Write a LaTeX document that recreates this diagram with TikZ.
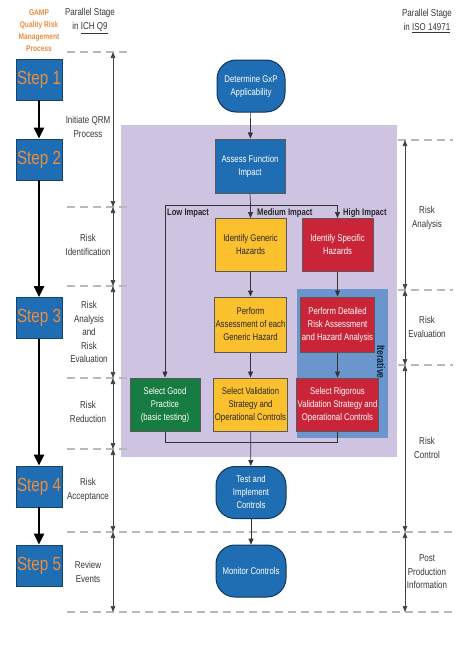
\documentclass[tikz,border=0pt]{standalone}
\usepackage{fontspec}
\setmainfont{Liberation Sans}[FakeStretch=0.8]
\usetikzlibrary{arrows.meta}
\definecolor{stepblue}{RGB}{31,110,180}
\definecolor{steporange}{RGB}{236,140,62}
\definecolor{lav}{RGB}{206,196,226}
\definecolor{yel}{RGB}{251,192,45}
\definecolor{redb}{RGB}{201,36,56}
\definecolor{grn}{RGB}{22,124,66}
\definecolor{iterblue}{RGB}{106,150,205}
\definecolor{txtgray}{RGB}{55,55,55}
\definecolor{dashgray}{RGB}{185,185,185}
\tikzset{
  stepbox/.style={rectangle, fill=stepblue, draw=stepblue!60!black, line width=0.8pt,
    minimum width=46, minimum height=41, inner sep=0, text=steporange,
    font=\fontsize{19}{20}\selectfont},
  procbox/.style={rectangle, draw=black!65, line width=1pt, minimum width=71,
    minimum height=53, inner sep=1, align=center, font=\fontsize{9.7}{13}\selectfont},
  bluebox/.style={procbox, fill=stepblue, text=white},
  yelbox/.style={procbox, fill=yel, text=black!85},
  redbox/.style={procbox, fill=redb, text=white},
  grnbox/.style={procbox, fill=grn, text=white},
  termbox/.style={rectangle, rounded corners=19pt, fill=stepblue, draw=stepblue!50!black,
    line width=1pt, minimum width=70, minimum height=52, inner sep=1, align=center,
    text=white, font=\fontsize{9.7}{13}\selectfont},
  flow/.style={draw=black!80, line width=0.7pt},
  flowarr/.style={flow, -{Triangle[width=5pt,length=6pt]}},
  bigarr/.style={draw=black, line width=2.6pt, -{Triangle[width=10pt,length=11pt]}},
  stagedash/.style={draw=dashgray, line width=2.2pt, dash pattern=on 8pt off 5pt},
  stagearr/.style={draw=black!75, line width=0.7pt,
    {Triangle[width=4.5pt,length=6pt]}-{Triangle[width=4.5pt,length=6pt]}},
  stagelbl/.style={align=center, text=txtgray, font=\fontsize{10}{13.5}\selectfont},
  implbl/.style={anchor=west, text=black!85, font=\bfseries\fontsize{9.5}{11}\selectfont, inner sep=1}
}
\begin{document}
\begin{tikzpicture}[x=1pt,y=-1pt]
\useasboundingbox (0,0) rectangle (474,645);
\fill[white] (0,0) rectangle (474,645);

% background regions
\fill[lav] (121,125) rectangle (397,457);
\fill[iterblue] (297,289) rectangle (388,438);
\node[rotate=-90, text=stepblue!35!black, font=\bfseries\fontsize{11}{12}\selectfont] (iterlbl) at (381,362) {Iterative};

% headers
\node[align=center, text=steporange, font=\bfseries\fontsize{8.3}{12}\selectfont] (gamp) at (39,31) {GAMP\\Quality Risk\\Management\\Process};
\node[stagelbl] (ichhdr) at (90,21) {Parallel Stage\\in \underline{ICH Q9}};
\node[stagelbl] (isohdr) at (427,21) {Parallel Stage\\in \underline{ISO 14971}};

% steps
\node[stepbox] (s1) at (39,79.5) {Step 1};
\node[stepbox] (s2) at (39,159.5) {Step 2};
\node[stepbox] (s3) at (39,318) {Step 3};
\node[stepbox] (s4) at (39,486.5) {Step 4};
\node[stepbox] (s5) at (39,565.5) {Step 5};
\draw[bigarr] (s1) -- (s2);
\draw[bigarr] (s2) -- (s3);
\draw[bigarr] (s3) -- (s4);
\draw[bigarr] (s4) -- (s5);

% left stage markers
\coordinate (L0) at (113,52);
\coordinate (L1) at (113,207);
\coordinate (L2) at (113,286);
\coordinate (L3) at (113,378);
\coordinate (L4) at (113,449);
\coordinate (L5) at (113,532);
\coordinate (L6) at (113,612);
\foreach \yy in {52,207,286,378,449} { \draw[stagedash] (67,\yy) -- (128,\yy); }
\draw[stagedash] (67,532) -- (453,532);
\draw[stagedash] (67,612) -- (453,612);
\draw[stagearr] (L0) -- (L1);
\draw[stagearr] (L1) -- (L2);
\draw[stagearr] (L2) -- (L3);
\draw[stagearr] (L3) -- (L4);
\draw[stagearr] (L4) -- (L5);
\draw[stagearr] (L5) -- (L6);

% right stage markers
\coordinate (R0) at (405,140);
\coordinate (R1) at (405,290);
\coordinate (R2) at (405,365);
\coordinate (R3) at (405,532);
\coordinate (R4) at (405,612);
\foreach \yy in {140,290,365} { \draw[stagedash] (398,\yy) -- (453,\yy); }
\draw[stagearr] (R0) -- (R1);
\draw[stagearr] (R1) -- (R2);
\draw[stagearr] (R2) -- (R3);
\draw[stagearr] (R3) -- (R4);

% stage labels
\node[stagelbl] (lq) at (88,127) {Initiate QRM\\Process};
\node[stagelbl] (li) at (88,245) {Risk\\Identification};
\node[stagelbl] (la) at (89,332) {Risk\\Analysis\\and\\Risk\\Evaluation};
\node[stagelbl] (lr) at (88,412) {Risk\\Reduction};
\node[stagelbl] (lac) at (88,490) {Risk\\Acceptance};
\node[stagelbl] (lre) at (88,572) {Review\\Events};
\node[stagelbl] (ra) at (427,218) {Risk\\Analysis};
\node[stagelbl] (re) at (427,327) {Risk\\Evaluation};
\node[stagelbl] (rc) at (427,448) {Risk\\Control};
\node[stagelbl] (rp) at (427,572) {Post\\Production\\Information};

% process nodes
\node[termbox, minimum width=68] (gxp) at (251,86) {Determine GxP\\Applicability};
\node[bluebox, minimum width=70, minimum height=54] (assess) at (250,166) {Assess Function\\Impact};
\node[yelbox] (idgen) at (250.5,245) {Identify Generic\\Hazards};
\node[redbox] (idspec) at (337.5,245) {Identify Specific\\Hazards};
\node[yelbox, minimum height=55] (perfgen) at (250.5,324.5) {Perform\\Assessment of each\\Generic Hazard};
\node[redbox, minimum height=55] (perfdet) at (337.5,324.5) {Perform Detailed\\Risk Assessment\\and Hazard Analysis};
\node[grnbox, minimum width=70] (good) at (165,404.5) {Select Good\\Practice\\(basic testing)};
\node[yelbox] (selval) at (250.5,404.5) {Select Validation\\Strategy and\\Operational Controls};
\node[redbox] (selrig) at (337.5,404.5) {Select Rigorous\\Validation Strategy and\\Operational Controls};
\node[termbox] (test) at (251,492.5) {Test and\\Implement\\Controls};
\node[termbox] (monitor) at (251,571) {Monitor Controls};

% branch
\coordinate (jL) at (165,205);
\coordinate (jM) at (250.5,205);
\coordinate (jR) at (337.5,205);
\draw[flowarr] (gxp) -- (assess);
\draw[flow] (assess.south) -- (jM);
\draw[flow] (jL) -- (jR);
\draw[flowarr] (jL) -- (good.north);
\draw[flowarr] (jM) -- (idgen.north);
\draw[flowarr] (jR) -- (idspec.north);
\node[implbl] (lowl) at (166,213) {Low Impact};
\node[implbl] (medl) at (256,213) {Medium Impact};
\node[implbl] (highl) at (342,213) {High Impact};

\draw[flowarr] (idgen) -- (perfgen);
\draw[flowarr] (perfgen) -- (selval);
\draw[flowarr] (idspec) -- (perfdet);
\draw[flowarr] (perfdet) -- (selrig);

% merge
\coordinate (mL) at (165,442);
\coordinate (mR) at (337.5,442);
\draw[flow] (good.south) -- (mL) -- (mR) -- (selrig.south);
\draw[flowarr] (selval) -- (test);
\draw[flowarr] (test) -- (monitor);
\end{tikzpicture}
\end{document}
